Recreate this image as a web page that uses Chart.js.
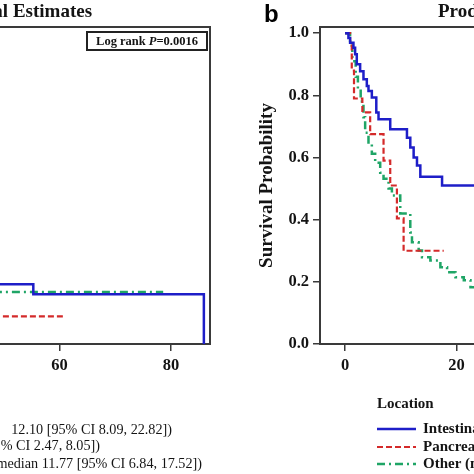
<!DOCTYPE html>
<html><head><meta charset="utf-8">
<script src="https://cdn.jsdelivr.net/npm/chart.js@4.4.1/dist/chart.umd.min.js"></script>
<style>
html,body{margin:0;padding:0;background:#fff;overflow:hidden;width:474px;height:474px;}
#wrap{position:relative;width:474px;height:474px;overflow:hidden;background:#fff;}
canvas{position:absolute;top:0;}
#cA{left:-380px;}
#cB{left:240px;}
</style></head><body>
<div id="wrap"><canvas id="cA" width="660" height="474"></canvas><canvas id="cB" width="660" height="474"></canvas></div>
<script>
// ---------- data ----------
const seriesNames = ['Intestinal', 'Pancreatic', 'Other (n'];
const xTickValues = [0, 20, 40, 60, 80];
const yTickValues = [0.0, 0.2, 0.4, 0.6, 0.8, 1.0];
const chartTitle = 'Product-Limit Survival Estimates';
const yAxisTitle = 'Survival Probability';
const legendTitle = 'Location';
const panelLabelB = 'b';
const logRankText = ['Log rank ', 'P', '=0.0016'];
const panelAMedianText = [
  '12.10 [95% CI 8.09, 22.82])',
  '[95% CI 2.47, 8.05])',
  'median 11.77 [95% CI 6.84, 17.52])'
];

// Panel a (only the right-hand tail is visible)
const aIntestineTime = [45, 55.3, 85.9];
const aIntestineSurv = [0.192, 0.160, 0.0];
const aPancreasTime = [45, 60.6];
const aPancreasSurv = [0.089, 0.089];
const aOtherTime = [45, 78.6];
const aOtherSurv = [0.167, 0.167];

// Panel b (only the left-hand start is visible)
const bIntestineTime = [0, 0.6, 0.9, 1.5, 1.8, 2.1, 2.7, 3.3, 3.9, 4.2, 4.8, 5.6, 6.0, 8.1, 11.1, 11.7, 12.3, 12.9, 13.5, 17.4, 24];
const bIntestineSurv = [1.0, 0.985, 0.969, 0.953, 0.932, 0.90, 0.878, 0.852, 0.83, 0.814, 0.793, 0.745, 0.723, 0.691, 0.664, 0.632, 0.60, 0.574, 0.538, 0.51, 0.51];
const bPancreasTime = [0, 0.9, 1.2, 1.6, 3.1, 4.5, 6.9, 8.1, 9.3, 10.5, 17.7];
const bPancreasSurv = [1.0, 0.96, 0.88, 0.79, 0.745, 0.675, 0.59, 0.51, 0.404, 0.30, 0.30];
const bOtherTime = [0, 0.9, 1.3, 1.9, 2.3, 2.8, 3.3, 3.6, 4.2, 4.8, 5.4, 6.3, 6.9, 7.8, 8.4, 9.9, 11.7, 12.0, 13.2, 13.8, 15.3, 17.1, 18.3, 19.8, 21.3, 22.5, 24];
const bOtherSurv = [1.0, 0.96, 0.91, 0.86, 0.82, 0.78, 0.73, 0.68, 0.644, 0.612, 0.583, 0.551, 0.532, 0.50, 0.478, 0.42, 0.359, 0.327, 0.301, 0.279, 0.269, 0.247, 0.231, 0.215, 0.205, 0.183, 0.183];

// ---------- styles ----------
const SERIF = "'Liberation Serif', 'Times New Roman', serif";
const axisColor = '#3a3a3a';
const textColor = '#141414';
const seriesStyles = [
  {color: '#1e1ec8', width: 2.5, dash: []},
  {color: '#d42a2a', width: 2.2, dash: [6, 3]},
  {color: '#1fa566', width: 2.5, dash: [8, 4, 2, 4]}
];

function pts(t, s) { return t.map((v, i) => ({x: v, y: s[i]})); }
function makeDatasets(series) {
  return series.map((s, i) => ({
    label: seriesNames[i],
    data: pts(s[0], s[1]),
    borderColor: seriesStyles[i].color,
    borderWidth: seriesStyles[i].width,
    borderDash: seriesStyles[i].dash,
    stepped: 'before',
    pointRadius: 0,
    fill: false,
    tension: 0
  }));
}

function scalesConfig() {
  const tickFont = {family: SERIF, size: 16.5, weight: 'bold'};
  return {
    x: {
      type: 'linear', position: 'bottom', min: -4.5, max: 87,
      afterBuildTicks: s => { s.ticks = xTickValues.map(v => ({value: v})); },
      afterFit: s => { s.height = 130; },
      ticks: {font: tickFont, color: textColor, padding: 5, maxRotation: 0, autoSkip: false, callback: v => String(v)},
      grid: {display: true, drawOnChartArea: false, drawTicks: true, tickLength: 7, color: axisColor, lineWidth: 1.5},
      border: {display: true, color: axisColor, width: 2}
    },
    xTop: {
      type: 'linear', position: 'top', min: -4.5, max: 87,
      afterFit: s => { s.height = 27; },
      ticks: {display: false},
      grid: {display: false, drawTicks: false},
      border: {display: true, color: axisColor, width: 2},
      title: {display: true, text: chartTitle, color: textColor, font: {family: SERIF, size: 19, weight: 'bold'}, padding: {top: 1, bottom: 0}}
    },
    y: {
      type: 'linear', position: 'left', min: 0, max: 1.02,
      afterBuildTicks: s => { s.ticks = yTickValues.map(v => ({value: v})); },
      afterFit: s => { s.width = 80; },
      ticks: {font: tickFont, color: textColor, padding: 4, autoSkip: false, callback: v => Number(v).toFixed(1)},
      grid: {display: true, drawOnChartArea: false, drawTicks: true, tickLength: 7, color: axisColor, lineWidth: 1.5},
      border: {display: true, color: axisColor, width: 2},
      title: {display: true, text: yAxisTitle, color: textColor, font: {family: SERIF, size: 19, weight: 'bold'}, padding: {top: 16, bottom: 0}}
    },
    yRight: {
      type: 'linear', position: 'right', min: 0, max: 1.02,
      afterFit: s => { s.width = 0; },
      ticks: {display: false},
      grid: {display: false, drawTicks: false},
      border: {display: true, color: axisColor, width: 2}
    }
  };
}

function baseOptions() {
  return {
    responsive: false, animation: false, devicePixelRatio: 1,
    layout: {padding: {left: 0, right: 70, top: 0, bottom: 0}},
    plugins: {legend: {display: false}, tooltip: {enabled: false}, title: {display: false}},
    scales: scalesConfig()
  };
}

// legend (drawn with each dataset's own style)
function legendPlugin(x0) {
  return {
    id: 'kmLegend',
    afterDraw(chart) {
      const ctx = chart.ctx;
      ctx.save();
      ctx.fillStyle = textColor;
      ctx.textBaseline = 'middle';
      ctx.textAlign = 'left';
      ctx.font = "bold 15px " + SERIF;
      ctx.fillText(legendTitle, x0, 404);
      const rows = [429, 447, 464];
      chart.data.datasets.forEach((ds, i) => {
        const y = rows[i];
        ctx.strokeStyle = ds.borderColor;
        ctx.lineWidth = ds.borderWidth;
        ctx.setLineDash(ds.borderDash || []);
        ctx.beginPath(); ctx.moveTo(x0, y); ctx.lineTo(x0 + 39, y); ctx.stroke();
        ctx.setLineDash([]);
        ctx.font = "bold 15px " + SERIF;
        ctx.fillText(ds.label, x0 + 46, y);
      });
      ctx.restore();
    }
  };
}

const panelAExtras = {
  id: 'panelAExtras',
  afterDraw(chart) {
    const ctx = chart.ctx, a = chart.chartArea;
    ctx.save();
    // log-rank box
    const bw = 120, bh = 18, bx = a.right - 3 - bw, by = a.top + 5;
    ctx.strokeStyle = '#222'; ctx.lineWidth = 2;
    ctx.strokeRect(bx, by, bw, bh);
    ctx.fillStyle = textColor; ctx.textBaseline = 'middle'; ctx.textAlign = 'left';
    const f1 = "bold 12.5px " + SERIF, f2 = "italic bold 12.5px " + SERIF;
    ctx.font = f1; const w0 = ctx.measureText(logRankText[0]).width, w2 = ctx.measureText(logRankText[2]).width;
    ctx.font = f2; const w1 = ctx.measureText(logRankText[1]).width;
    let tx = bx + (bw - (w0 + w1 + w2)) / 2; const ty = by + bh / 2 + 0.5;
    ctx.font = f1; ctx.fillText(logRankText[0], tx, ty); tx += w0;
    ctx.font = f2; ctx.fillText(logRankText[1], tx, ty); tx += w1;
    ctx.font = f1; ctx.fillText(logRankText[2], tx, ty);
    // median texts (right-aligned, page x -> canvas x = +380)
    ctx.font = "14.2px " + SERIF; ctx.textAlign = 'right';
    const ends = [172, 100, 202], ys = [430, 446, 464];
    panelAMedianText.forEach((t, i) => ctx.fillText(t, ends[i] + 380, ys[i]));
    ctx.restore();
  }
};

const panelBExtras = {
  id: 'panelBExtras',
  afterDraw(chart) {
    const ctx = chart.ctx;
    ctx.save();
    ctx.fillStyle = '#000';
    ctx.font = "bold 24px 'Liberation Sans', Arial, sans-serif";
    ctx.textBaseline = 'alphabetic'; ctx.textAlign = 'left';
    ctx.fillText(panelLabelB, 24, 22);
    ctx.restore();
  }
};

new Chart(document.getElementById('cA'), {
  type: 'line',
  data: {datasets: makeDatasets([[aIntestineTime, aIntestineSurv], [aPancreasTime, aPancreasSurv], [aOtherTime, aOtherSurv]])},
  options: baseOptions(),
  plugins: [panelAExtras]
});

new Chart(document.getElementById('cB'), {
  type: 'line',
  data: {datasets: makeDatasets([[bIntestineTime, bIntestineSurv], [bPancreasTime, bPancreasSurv], [bOtherTime, bOtherSurv]])},
  options: baseOptions(),
  plugins: [panelBExtras, legendPlugin(137)]
});
</script>
</body></html>
